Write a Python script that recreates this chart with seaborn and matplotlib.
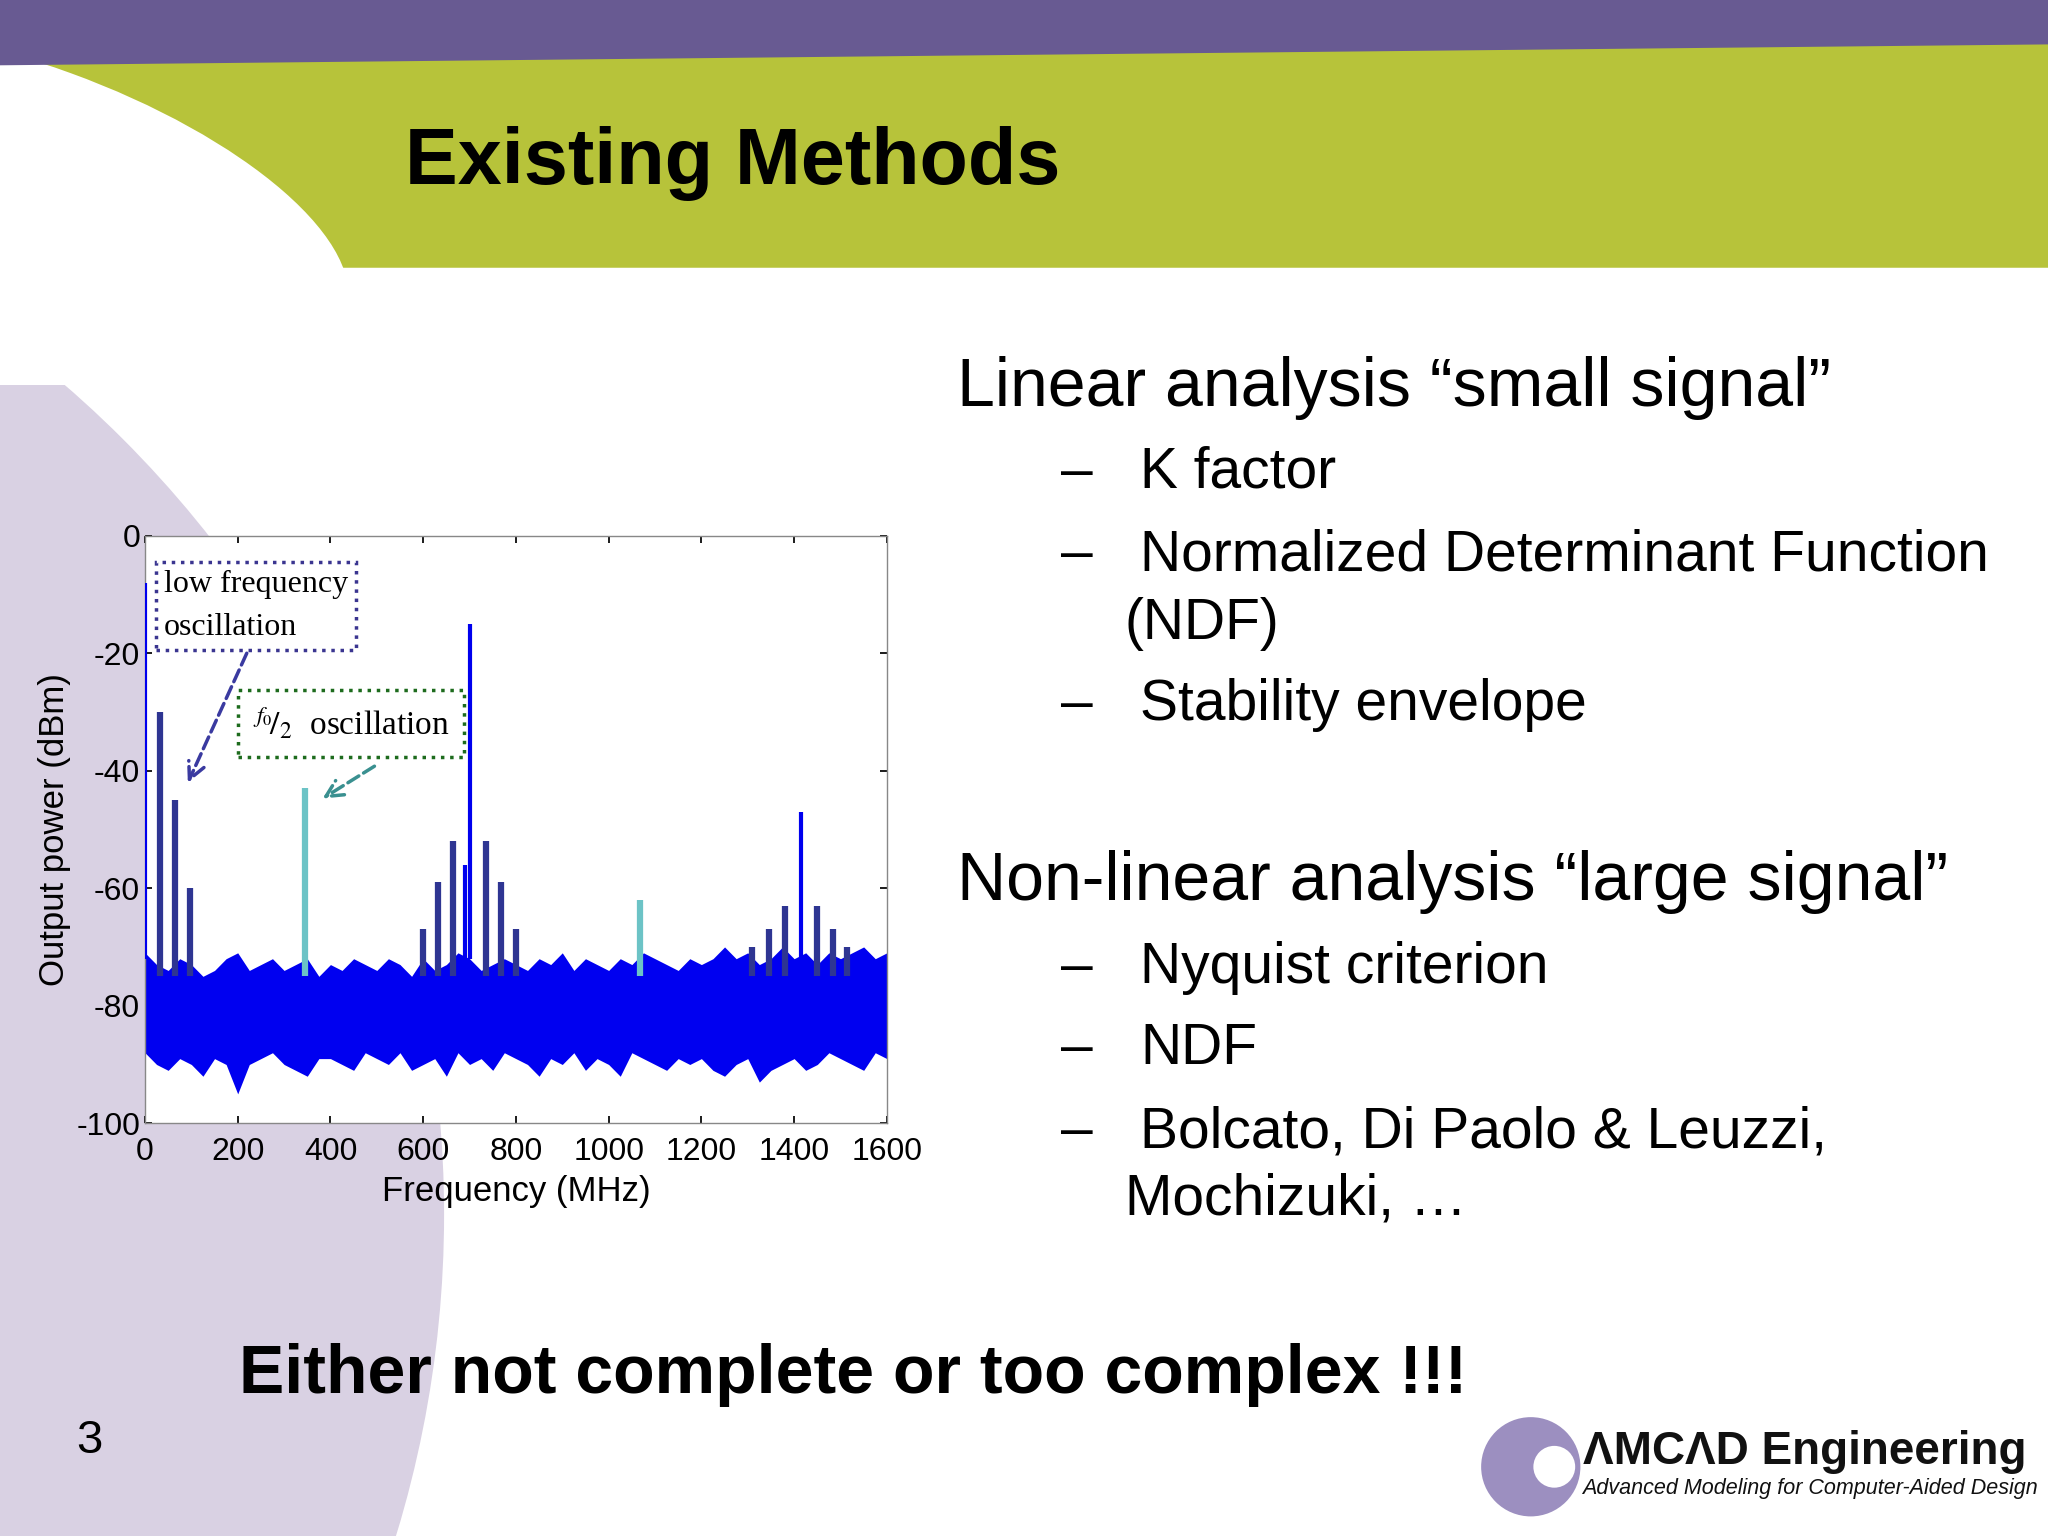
import numpy as np
import pandas as pd
import matplotlib
matplotlib.use("Agg")
import matplotlib.pyplot as plt
import seaborn as sns
from matplotlib.patches import Polygon, Circle, Rectangle, Ellipse

# ---- data ----
noise_freq = list(range(0, 1601, 25))
noise_top = [-71, -73, -74, -72, -73, -75, -74, -72, -71, -74, -73, -72, -74, -73, -72, -75,
             -73, -74, -72, -73, -74, -72, -73, -75, -72, -74, -73, -71, -72, -74, -73, -72,
             -73, -74, -72, -73, -71, -74, -72, -73, -74, -72, -73, -71, -72, -73, -74, -72,
             -73, -72, -70, -72, -71, -73, -72, -70, -72, -71, -73, -71, -72, -71, -70, -72, -71]
noise_bot = [-88, -90, -91, -89, -90, -92, -89, -90, -95, -90, -89, -88, -90, -91, -92, -89,
             -89, -90, -91, -88, -89, -90, -88, -91, -90, -89, -92, -88, -90, -89, -91, -88,
             -89, -90, -92, -89, -90, -88, -91, -89, -90, -92, -88, -89, -90, -91, -89, -90,
             -89, -91, -92, -90, -89, -93, -91, -90, -89, -91, -90, -88, -89, -90, -91, -88, -89]

blue_freq = [0, 690, 700, 1415]
blue_peak = [-8, -56, -15, -47]
navy_freq = [32, 65, 98, 600, 633, 665, 735, 768, 800, 1310, 1345, 1380, 1450, 1483, 1515]
navy_peak = [-30, -45, -60, -67, -59, -52, -52, -59, -67, -70, -67, -63, -63, -67, -70]
cyan_freq = [345, 1068]
cyan_peak = [-43, -62]
stem_base = -75

x_ticks = [0, 200, 400, 600, 800, 1000, 1200, 1400, 1600]
y_ticks = [0, -20, -40, -60, -80, -100]

sns.set_theme(style="white")
plt.rcParams['font.family'] = ['Liberation Sans', 'DejaVu Sans']
plt.rcParams['mathtext.fontset'] = 'stix'
plt.rcParams['text.color'] = 'black'
plt.rcParams['axes.labelcolor'] = 'black'

W, H = 1568, 1176
fig = plt.figure(figsize=(20.48, 15.36), dpi=100)
fig.patch.set_facecolor("white")

def fx(x):
    return x / W

def fy(y):
    return 1 - y / H

# background decoration, drawn in reference pixel space
bg = fig.add_axes([0, 0, 1, 1], zorder=-1)
bg.set_xlim(0, W)
bg.set_ylim(H, 0)
bg.axis("off")
bg.add_patch(Circle((-500, 930), 840, color="#d9d1e3", lw=0))
bg.add_patch(Polygon([(0, 38), (W, 30), (W, 205), (0, 205)], color="#b7c33a", lw=0))
bg.add_patch(Ellipse((20, 150), 520, 200, angle=20, color="white", lw=0))
bg.add_patch(Polygon([(0, 0), (W, 0), (W, 34), (0, 50)], color="#685a92", lw=0))
bg.add_patch(Rectangle((0, 205), W, 90, color="white", lw=0))

fig.text(fx(310), fy(125), "Existing Methods", fontsize=57, fontweight="bold", va="center")

right = [
    (733, 297, "Linear analysis \u201csmall signal\u201d", 49, False),
    (873, 362, "K factor", 41, True),
    (873, 425, "Normalized Determinant Function", 41, True),
    (861, 478, "(NDF)", 41, False),
    (873, 540, "Stability envelope", 41, True),
    (733, 675, "Non-linear analysis \u201clarge signal\u201d", 49, False),
    (873, 741, "Nyquist criterion", 41, True),
    (873, 803, "NDF", 41, True),
    (873, 867, "Bolcato, Di Paolo & Leuzzi,", 41, True),
    (861, 918, "Mochizuki, \u2026", 41, False),
]
for x, y, s, size, dash in right:
    fig.text(fx(x), fy(y), s, fontsize=size, va="center")
    if dash:
        fig.text(fx(812), fy(y), "\u2013", fontsize=size, va="center")

fig.text(fx(183), fy(1053), "Either not complete or too complex !!!", fontsize=49,
         fontweight="bold", va="center")
fig.text(fx(58), fy(1103), "3", fontsize=34, va="center")

# logo
bg.add_patch(Circle((1172, 1123), 38, color="#9c8fc0", lw=0))
bg.add_patch(Circle((1190, 1123), 16, color="white", lw=0))
fig.text(fx(1212), fy(1112), "\u039bMC\u039bD Engineering", fontsize=33, fontweight="bold",
         va="center", color="#111111")
fig.text(fx(1211), fy(1140), "Advanced Modeling for Computer-Aided Design", fontsize=15.5,
         style="italic", va="center", color="#111111")

# ---- spectrum chart ----
ax = fig.add_axes([fx(111), fy(860), fx(679) - fx(111), fy(410) - fy(860)])
ax.set_facecolor("white")
ax.fill_between(noise_freq, noise_bot, noise_top, color="#0000f0", lw=0, zorder=2)
ax.vlines(navy_freq, stem_base, navy_peak, color="#2e3592", lw=4.5, zorder=3)
ax.vlines(cyan_freq, stem_base, cyan_peak, color="#6cc3c6", lw=4.5, zorder=3)
ax.vlines(blue_freq, -72, blue_peak, color="#0000ee", lw=3, zorder=3)

ax.set_xlim(0, 1600)
ax.set_ylim(-100, 0)
ax.set_xticks(x_ticks)
ax.set_yticks(y_ticks)
ax.set_xticklabels([str(t) for t in x_ticks], fontsize=23)
ax.set_yticklabels([str(t) for t in y_ticks], fontsize=23)
ax.tick_params(axis="x", pad=10)
ax.tick_params(direction="in", length=5, top=True, right=True, bottom=True, left=True,
               colors="black")
for s in ax.spines.values():
    s.set_color("#888888")
    s.set_linewidth(1)
ax.set_xlabel("Frequency (MHz)", fontsize=25, labelpad=6)
ax.set_ylabel("Output power (dBm)", fontsize=25, labelpad=4)

ax.text(40, -12, "low frequency\noscillation", family=['Liberation Serif'], fontsize=23,
        va="center", linespacing=1.6,
        bbox=dict(boxstyle="square,pad=0.25", fc="white", ec="#3a3590", ls=":", lw=2.5))
ax.text(232, -32, r"$^{f_0}\!/_{2}$" + "  oscillation", family=['Liberation Serif'],
        fontsize=24, va="center",
        bbox=dict(boxstyle="square,pad=0.45", fc="white", ec="#1d6b1d", ls=":", lw=2.5))
ax.annotate("", xy=(90, -42.5), xytext=(222, -19.6),
            arrowprops=dict(arrowstyle="->", ls="--", lw=2.5, color="#3a3aa0", mutation_scale=30))
ax.annotate("", xy=(378, -45), xytext=(500, -39),
            arrowprops=dict(arrowstyle="->", ls="--", lw=2.5, color="#3a9090", mutation_scale=30))

fig.savefig("out.png", dpi=100)
